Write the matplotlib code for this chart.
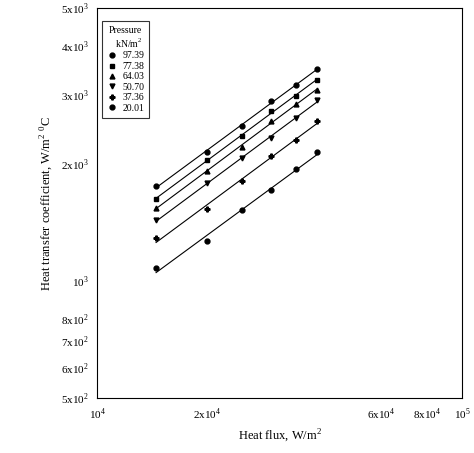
import numpy as np
import matplotlib
matplotlib.use("Agg")
import matplotlib.pyplot as plt
from matplotlib.ticker import FixedLocator, NullLocator

plt.rcParams['font.family'] = ['Liberation Serif', 'DejaVu Serif']
plt.rcParams['mathtext.fontset'] = 'custom'
plt.rcParams['mathtext.rm'] = 'Liberation Serif'

heat_flux = [1.45e4, 2.0e4, 2.5e4, 3.0e4, 3.5e4, 4.0e4]
pressures = ['97.39', '77.38', '64.03', '50.70', '37.36', '20.01']
markers = ['o', 's', '^', 'v', 'P', 'o']
h_9739 = [1746, 2142, 2493, 2883, 3183, 3484]
h_7738 = [1624, 2040, 2355, 2723, 2976, 3279]
h_6403 = [1535, 1915, 2202, 2573, 2837, 3087]
h_5070 = [1428, 1781, 2060, 2317, 2616, 2911]
h_3736 = [1284, 1525, 1800, 2085, 2298, 2569]
h_2001 = [1080, 1264, 1516, 1705, 1939, 2137]
series = [h_9739, h_7738, h_6403, h_5070, h_3736, h_2001]

fig = plt.figure(figsize=(4.74, 4.53), dpi=100)
ax = fig.add_axes([0.205, 0.121, 0.77, 0.861])
ax.set_xscale('log')
ax.set_yscale('log')

x = np.array(heat_flux)
for p, m, h in zip(pressures, markers, series):
    coef = np.polyfit(np.log10(x), np.log10(h), 1)
    xf = np.array([x[0], x[-1]])
    ax.plot(xf, 10 ** np.polyval(coef, np.log10(xf)), color='black', lw=0.8)
    ax.plot(x, h, linestyle='none', marker=m, color='black', markersize=3.5, label=p)

ax.set_xlim(1e4, 1e5)
ax.set_ylim(500, 5000)
xt = [1e4, 2e4, 6e4, 8e4, 1e5]
xl = ['10$^4$', '2x10$^4$', '6x10$^4$', '8x10$^4$', '10$^5$']
yt = [500, 600, 700, 800, 1000, 2000, 3000, 4000, 5000]
yl = ['5x10$^2$', '6x10$^2$', '7x10$^2$', '8x10$^2$', '10$^3$',
      '2x10$^3$', '3x10$^3$', '4x10$^3$', '5x10$^3$']
ax.xaxis.set_major_locator(FixedLocator(xt))
ax.xaxis.set_minor_locator(NullLocator())
ax.set_xticklabels(xl)
ax.yaxis.set_major_locator(FixedLocator(yt))
ax.yaxis.set_minor_locator(NullLocator())
ax.set_yticklabels(yl)
ax.tick_params(labelsize=8, length=0, pad=6)

ax.set_xlabel('Heat flux, W/m$^2$', fontsize=9)
ax.set_ylabel('Heat transfer coefficient, W/m$^2$ $^0$C', fontsize=9)

leg = ax.legend(title='Pressure\n   kN/m$^2$', loc='upper left', fontsize=7,
                title_fontsize=7, frameon=True, fancybox=False, edgecolor='black',
                handlelength=1, handletextpad=0.6, borderpad=0.5, labelspacing=0.15,
                bbox_to_anchor=(0.0, 0.98))
leg.get_frame().set_linewidth(0.8)

fig.savefig('out.png', dpi=100)
